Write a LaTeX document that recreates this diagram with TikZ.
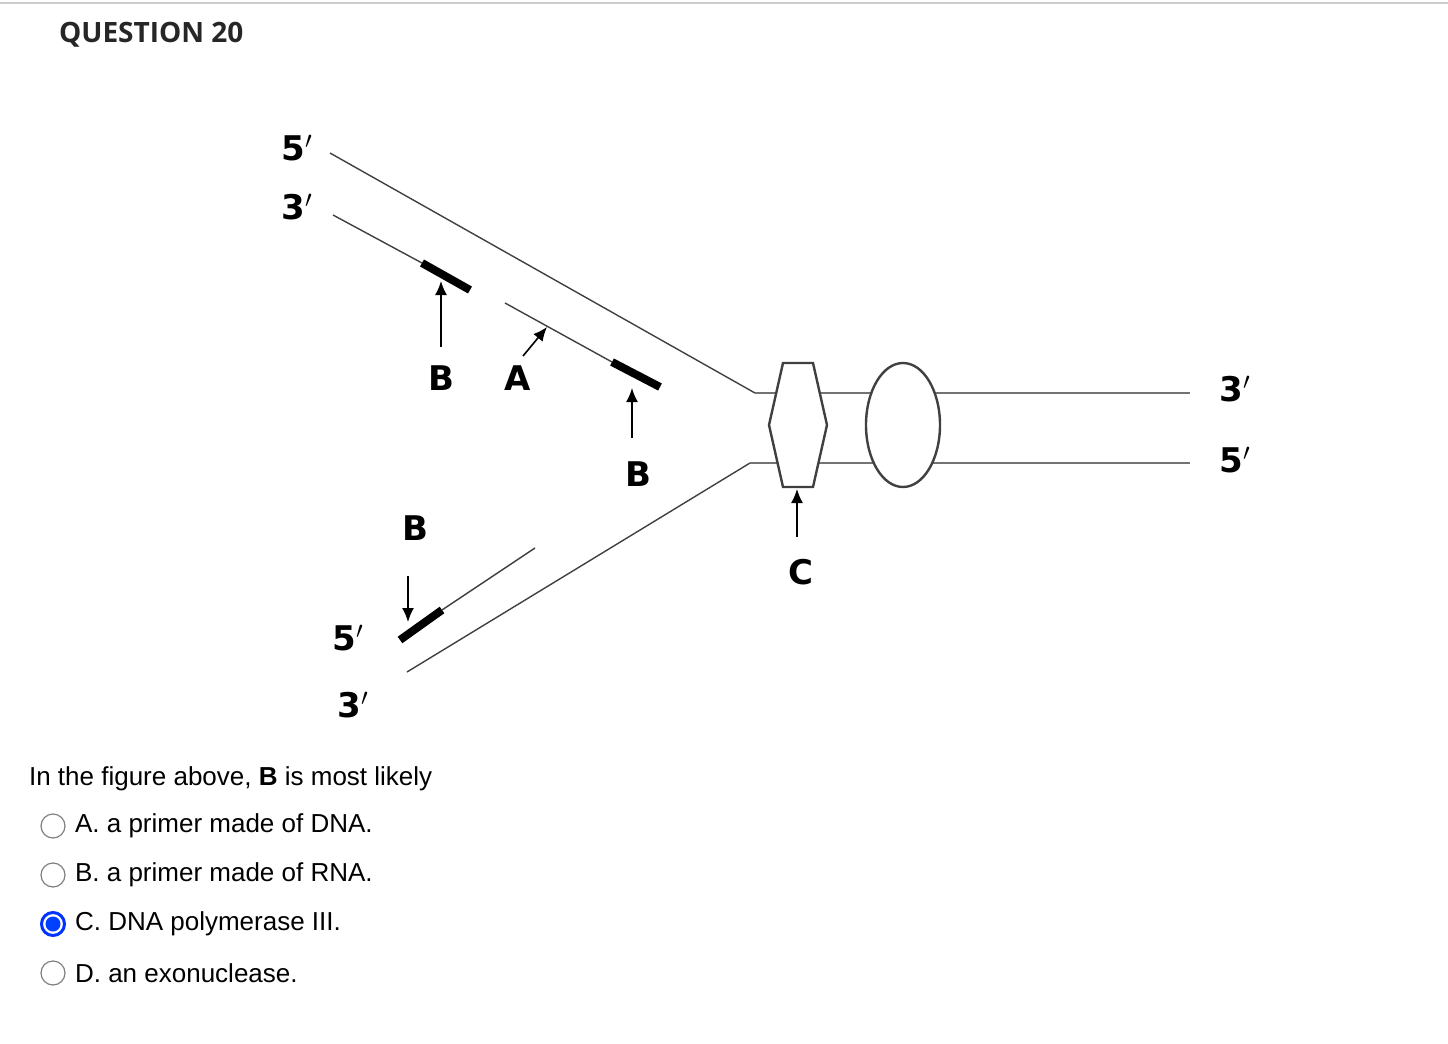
\documentclass[tikz,border=0pt]{standalone}
\usetikzlibrary{shapes.geometric,arrows.meta}
\usepackage{fontspec}
\setmainfont{Liberation Sans}
\newfontfamily\lab{DejaVu Sans}
\newfontfamily\qf{Open Sans}
\begin{document}
\begin{tikzpicture}[x=0.5pt,y=-0.5pt,
  strand/.style={draw=black!75,line width=0.7pt},
  helix/.style={draw=black!55,line width=1.3pt},
  bar/.style={line width=4pt,black},
  arr/.style={-{Latex[length=7pt,width=6pt]},line width=0.8pt},
  lbl/.style={font=\lab\bfseries\fontsize{17}{20}\selectfont},
  opt/.style={anchor=west,font=\fontsize{13}{16}\selectfont},
  radio/.style={draw=black!50,line width=0.6pt,fill=white}]
\useasboundingbox (0,0) rectangle (1448,1044);
\draw[black!20,line width=1pt] (0,3) -- (1448,3);
\node[anchor=west,font=\qf\bfseries\fontsize{14}{16}\selectfont,text=black!85] (q) at (52,35) {QUESTION 20};
% strands
\coordinate (t1) at (330,153); \coordinate (t1b) at (755,393); \coordinate (t1e) at (1190,393);
\draw[strand] (t1) -- (t1b); \draw[helix] (t1b) -- (t1e);
\coordinate (b1) at (407,672); \coordinate (b1b) at (750,463); \coordinate (b1e) at (1190,463);
\draw[strand] (b1) -- (b1b); \draw[helix] (b1b) -- (b1e);
\coordinate (t2) at (333,215); \coordinate (p1a) at (422,263); \coordinate (p1b) at (470,290);
\draw[strand] (t2) -- (p1a); \draw[bar] (p1a) -- (p1b);
\coordinate (o2) at (505,303); \coordinate (p2a) at (612,362); \coordinate (p2b) at (660,387);
\draw[strand] (o2) -- (p2a); \draw[bar] (p2a) -- (p2b);
\coordinate (p3a) at (400,640); \coordinate (p3b) at (442,610); \coordinate (o3) at (535,548);
\draw[bar] (p3a) -- (p3b); \draw[strand] (p3b) -- (o3);
% helicase and polymerase
\draw[black!75,line width=1.2pt,fill=white] (783,363) -- (813,363) -- (827,425) -- (813,487) -- (783,487) -- (769,425) -- cycle;
\node[draw=black!75,line width=1.2pt,fill=white,ellipse,minimum width=37pt,minimum height=62pt,inner sep=0pt] (pol) at (903,425) {};
% labels
\node[lbl] (l5a) at (297,148) {5$'$};
\node[lbl] (l3a) at (297,207) {3$'$};
\node[lbl] (l5b) at (348,638) {5$'$};
\node[lbl] (l3b) at (353,705) {3$'$};
\node[lbl] (r3) at (1235,389) {3$'$};
\node[lbl] (r5) at (1235,460) {5$'$};
\node[lbl] (B1) at (441,378) {B};
\node[lbl] (A) at (518,378) {A};
\node[lbl] (B2) at (638,474) {B};
\node[lbl] (C) at (801,572) {C};
\node[lbl] (B3) at (415,528) {B};
% arrows
\draw[arr] (441,347) -- (441,281);
\draw[arr] (523,356) -- (547,327);
\draw[arr] (632,438) -- (632,388);
\draw[arr] (797,537) -- (797,489);
\draw[arr] (408,576) -- (408,622);
% question
\node[opt] (qt) at (22,779) {In the figure above, \textbf{B} is most likely};
\foreach \y/\t/\n in {826/A. a primer made of DNA./oa,875/B. a primer made of RNA./ob,924/C. DNA polymerase III./oc,973/D. an exonuclease./od}{
  \node[opt] (\n) at (68,\y) {\t};
}
\draw[radio] (53,826) circle (12);
\draw[radio] (53,875) circle (12);
\draw[draw=blue!80!cyan,fill=white,line width=1.5pt] (53,924) circle (11.5);
\fill[blue!75!cyan] (53,924) circle (7.5);
\draw[radio] (53,973) circle (12);
\end{tikzpicture}
\end{document}
